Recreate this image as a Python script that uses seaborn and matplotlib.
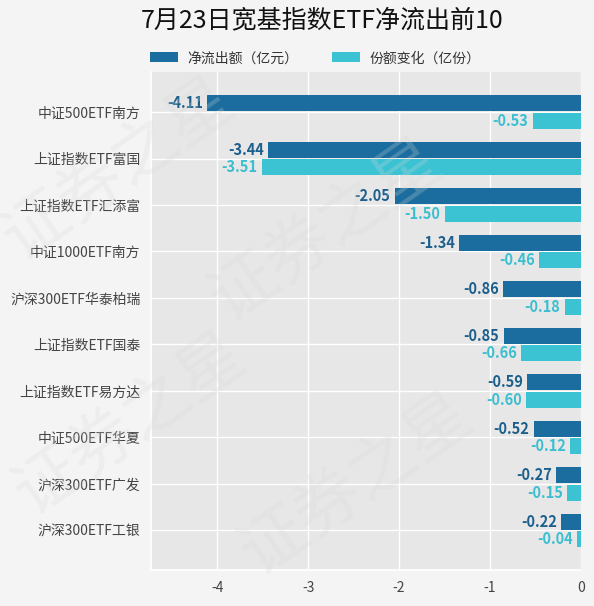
import matplotlib

matplotlib.use("Agg")
import matplotlib.pyplot as plt
import pandas as pd
import seaborn as sns


NAMES = [
    "中证500ETF南方",
    "上证指数ETF富国",
    "上证指数ETF汇添富",
    "中证1000ETF南方",
    "沪深300ETF华泰柏瑞",
    "上证指数ETF国泰",
    "上证指数ETF易方达",
    "中证500ETF华夏",
    "沪深300ETF广发",
    "沪深300ETF工银",
]
NET_OUTFLOW = [-4.11, -3.44, -2.05, -1.34, -0.86, -0.85, -0.59, -0.52, -0.27, -0.22]
SHARE_CHANGE = [-0.53, -3.51, -1.50, -0.46, -0.18, -0.66, -0.60, -0.12, -0.15, -0.04]
SERIES = ["净流出额（亿元）", "份额变化（亿份）"]
COLORS = ["#1a6d9e", "#3bc2d3"]
LABEL_COLORS = ["#1c5f8c", "#3bbfd0"]
TITLE = "7月23日宽基指数ETF净流出前10"

frame = pd.DataFrame(
    {
        "名称": NAMES * 2,
        "指标": [SERIES[0]] * len(NAMES) + [SERIES[1]] * len(NAMES),
        "值": NET_OUTFLOW + SHARE_CHANGE,
    }
)

sns.set_theme(style="darkgrid")
plt.rcParams["font.family"] = ["Noto Sans CJK SC", "DejaVu Sans"]
plt.rcParams["axes.unicode_minus"] = False

fig = plt.figure(figsize=(5.94, 6.06), dpi=100, facecolor="#f4f4f4")

# faint watermark behind everything
for x, y in [(0.2, 0.72), (0.55, 0.62), (0.22, 0.3), (0.6, 0.2)]:
    fig.text(x, y, "证券之星", fontsize=48, color="#d8d8d8", alpha=0.25,
             rotation=35, ha="center", va="center", zorder=0)

ax = fig.add_axes([0.254, 0.059, 0.724, 0.822])
ax.set_facecolor("#e5e5e5")
ax.patch.set_alpha(0.85)

sns.barplot(
    data=frame,
    y="名称",
    x="值",
    hue="指标",
    palette=COLORS,
    saturation=1,
    orient="h",
    width=0.75,
    gap=0.08,
    linewidth=0,
    ax=ax,
    legend=True,
)

for container, color, weight in zip(ax.containers, LABEL_COLORS, ["bold", "semibold"]):
    ax.bar_label(container, fmt="%.2f", padding=3, color=color, fontsize=10.5, fontweight=weight)

ax.set_xlim(-4.73, 0)
ax.set_ylim(9.86, -0.86)
ax.set_xticks([-4, -3, -2, -1, 0])
ax.set_xlabel("")
ax.set_ylabel("")
ax.tick_params(axis="both", length=4, color="#555555", labelsize=10, labelcolor="#444444")
ax.grid(True, color="white", linewidth=1)
for spine in ax.spines.values():
    spine.set_visible(False)
ax.spines["left"].set_visible(True)
ax.spines["bottom"].set_visible(True)
ax.spines["left"].set_color("white")
ax.spines["bottom"].set_color("white")

handles, labels = ax.get_legend_handles_labels()
ax.get_legend().remove()
fig.legend(
    handles,
    labels,
    loc="center",
    bbox_to_anchor=(0.531, 0.904),
    ncol=2,
    frameon=False,
    fontsize=10,
    handlelength=2.0,
    handleheight=0.75,
    handletextpad=0.7,
    columnspacing=2.4,
    labelcolor="#333333",
)

fig.text(0.542, 0.966, TITLE, ha="center", va="center", fontsize=18, color="#111111")

fig.savefig("out.png", dpi=100, facecolor=fig.get_facecolor())
